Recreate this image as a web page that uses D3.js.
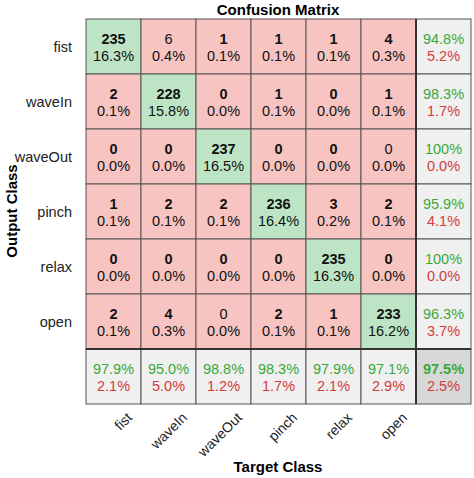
<!DOCTYPE html><html><head><meta charset="utf-8"><script src="https://cdn.jsdelivr.net/npm/d3@7"></script>
<style>body{margin:0;background:#fff}text{font-family:"Liberation Sans",Arial,sans-serif}</style></head><body><svg width="474" height="478"></svg><script>
const classes=["fist","waveIn","waveOut","pinch","relax","open"];
const counts=[[235,6,1,1,1,4],[2,228,0,1,0,1],[0,0,237,0,0,0],[1,2,2,236,3,2],[0,0,0,0,235,0],[2,4,0,2,1,233]];
const pcts=[["16.3%","0.4%","0.1%","0.1%","0.1%","0.3%"],["0.1%","15.8%","0.0%","0.1%","0.0%","0.1%"],["0.0%","0.0%","16.5%","0.0%","0.0%","0.0%"],["0.1%","0.1%","0.1%","16.4%","0.2%","0.1%"],["0.0%","0.0%","0.0%","0.0%","16.3%","0.0%"],["0.1%","0.3%","0.0%","0.1%","0.1%","16.2%"]];
const rowGood=["94.8%","98.3%","100%","95.9%","100%","96.3%"],rowBad=["5.2%","1.7%","0.0%","4.1%","0.0%","3.7%"];
const colGood=["97.9%","95.0%","98.8%","98.3%","97.9%","97.1%"],colBad=["2.1%","5.0%","1.2%","1.7%","2.1%","2.9%"];
const totGood="97.5%",totBad="2.5%";
const notBold=[[0,1],[5,2],[2,5]];
const svg=d3.select("svg");
const x=d3.scaleBand().domain(d3.range(7)).range([86,471]);
const y=d3.scaleBand().domain(d3.range(7)).range([19,404]);
const w=x.bandwidth(),h=y.bandwidth();
const G="#3aa83a",R="#d23c3c",FS=14.5;
for(let r=0;r<7;r++)for(let c=0;c<7;c++){
 const g=svg.append("g").attr("transform",`translate(${x(c)},${y(r)})`);
 let fill;
 if(r<6&&c<6)fill=r===c?"#bde5c5":"#f7c4c1";else if(r===6&&c===6)fill="#d8d8d8";else fill="#f0f0f0";
 g.append("rect").attr("width",w).attr("height",h).attr("fill",fill).attr("stroke","#555").attr("stroke-width",1);
 let a,b,ca="#111",cb="#111",bw="normal";
 if(r<6&&c<6){a=counts[r][c];b=pcts[r][c];bw=notBold.some(p=>p[0]===r&&p[1]===c)?"normal":"bold";}
 else{ca=G;cb=R;if(r===6&&c===6){a=totGood;b=totBad;bw="bold"}else if(c===6){a=rowGood[r];b=rowBad[r]}else{a=colGood[c];b=colBad[c]}}
 g.append("text").attr("x",w/2).attr("y",h/2-3).attr("text-anchor","middle").attr("font-size",FS).attr("font-weight",bw).attr("fill",ca).text(a);
 g.append("text").attr("x",w/2).attr("y",h/2+14).attr("text-anchor","middle").attr("font-size",FS).attr("fill",cb).text(b);
}
svg.append("line").attr("x1",x(6)).attr("x2",x(6)).attr("y1",19).attr("y2",404).attr("stroke","#333").attr("stroke-width",2);
svg.append("line").attr("x1",86).attr("x2",471).attr("y1",y(6)).attr("y2",y(6)).attr("stroke","#333").attr("stroke-width",2);
classes.forEach((n,i)=>{
 svg.append("text").attr("x",72).attr("y",y(i)+h/2+5).attr("text-anchor","end").attr("font-size",14.5).attr("fill","#222").text(n);
 svg.append("text").attr("transform",`translate(${x(i)+w/2+12},${411}) rotate(-45)`).attr("text-anchor","end").attr("dy","0.75em").attr("font-size",14).attr("fill","#222").text(n);
});
svg.append("text").attr("x",278).attr("y",15).attr("text-anchor","middle").attr("font-size",15).attr("font-weight","bold").text("Confusion Matrix");
svg.append("text").attr("x",278).attr("y",472).attr("text-anchor","middle").attr("font-size",15).attr("font-weight","bold").text("Target Class");
svg.append("text").attr("transform","translate(17,211) rotate(-90)").attr("text-anchor","middle").attr("font-size",15).attr("font-weight","bold").text("Output Class");
</script></body></html>
